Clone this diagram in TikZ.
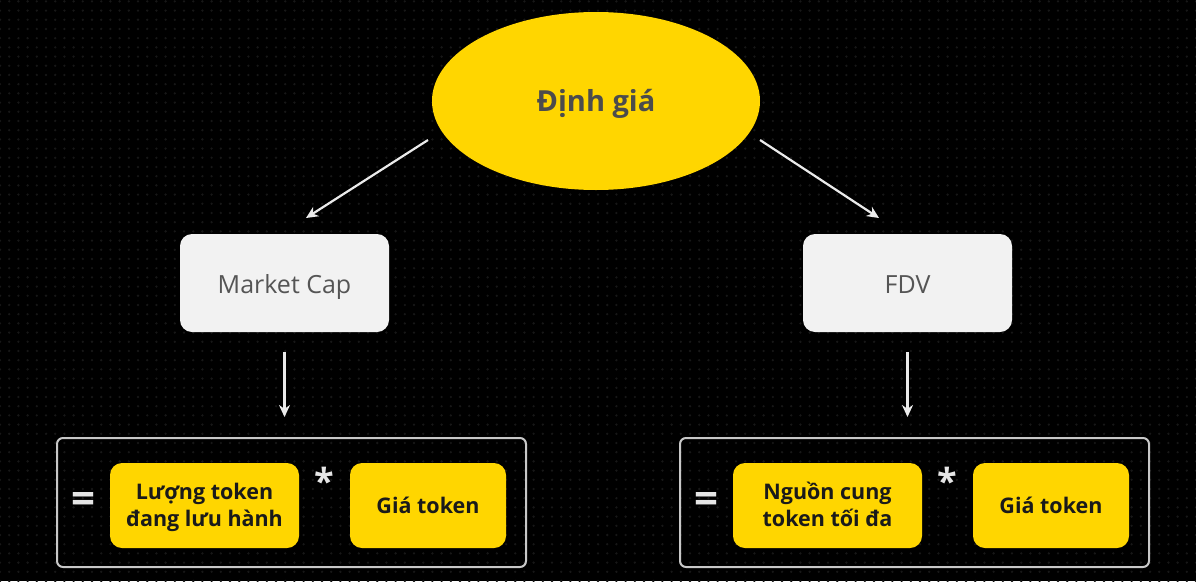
\documentclass[tikz,border=0pt]{standalone}
\usepackage{fontspec}
\setmainfont{Open Sans}
\usetikzlibrary{shapes.geometric,arrows.meta,patterns.meta}
\definecolor{ylw}{HTML}{FFD600}
\definecolor{lightbox}{HTML}{F2F2F2}
\definecolor{dotc}{HTML}{171717}
\definecolor{txtgray}{HTML}{555555}
\definecolor{txtdark}{HTML}{1A1A1A}
\definecolor{framec}{HTML}{C8C8C8}
\newcommand{\lowerby}[2]{\raisebox{-#1}[\height][\depth]{#2}}
\newcommand{\twolines}[2]{\lowerby{2.5pt}{\begin{tabular}{@{}c@{}}#1\\#2\end{tabular}}}
\tikzdeclarepattern{
  name=bgdots,
  type=uncolored,
  bottom left={(-4.6pt,-4.6pt)},
  top right={(4.6pt,4.6pt)},
  tile size={(9.2pt,9.2pt)},
  code={\pgfpathcircle{\pgfpointorigin}{1.3pt}\pgfusepath{fill}}
}
\tikzset{
  topnode/.style={ellipse, fill=ylw, minimum width=328pt, minimum height=178pt, inner sep=0pt,
    text=txtgray!90!black, font=\fontsize{29}{32}\selectfont\bfseries},
  graybox/.style={rectangle, rounded corners=12pt, fill=lightbox, minimum width=209pt, minimum height=98pt,
    text=txtgray, font=\fontsize{25}{28}\selectfont},
  framebox/.style={rectangle, rounded corners=6pt, draw=framec, line width=2pt, minimum width=469pt, minimum height=129pt},
  ybox/.style={rectangle, rounded corners=12pt, fill=ylw, minimum height=85pt, inner sep=0pt,
    text=txtdark, font=\fontsize{21.5}{27}\selectfont\bfseries},
  opsym/.style={text=white!90!black, inner sep=0pt},
  arr/.style={draw=white!92!black, line width=2.2pt, -{Stealth[length=12pt,width=11pt]}}
}
\begin{document}
\begin{tikzpicture}[x=1pt,y=-1pt]
\useasboundingbox (0,0) rectangle (1196,581);
\fill[black] (0,0) rectangle (1196,581);
\fill[pattern={bgdots}, pattern color=dotc] (0,0) rectangle (1196,581);
% top
\node[topnode] (e) at (596,101) {\lowerby{3pt}{Định giá}};
% middle
\node[graybox] (mc) at (284.5,283) {\lowerby{4pt}{Market Cap}};
\node[graybox] (fdv) at (907.5,283) {\lowerby{2pt}{FDV}};
% bottom frames
\node[framebox] (lf) at (291.5,502.5) {};
\node[framebox] (rf) at (914.5,502.5) {};
% left formula
\node[opsym, font=\fontsize{42}{42}\selectfont\bfseries] (leq) at (83,503) {=};
\node[ybox, minimum width=189pt] (l1) at (204.5,505.5) {\twolines{Lượng token}{đang lưu hành}};
\node[opsym, font=\fontsize{36}{36}\selectfont\bfseries] (lst) at (324,481) {*};
\node[ybox, minimum width=156pt] (l2) at (428,505.5) {Giá token};
% right formula
\node[opsym, font=\fontsize{42}{42}\selectfont\bfseries] (req) at (706,503) {=};
\node[ybox, minimum width=189pt] (r1) at (827.5,505.5) {\twolines{Nguồn cung}{token tối đa}};
\node[opsym, font=\fontsize{36}{36}\selectfont\bfseries] (rst) at (947,481) {*};
\node[ybox, minimum width=156pt] (r2) at (1051,505.5) {Giá token};
% arrows
\coordinate (a1s) at (428,140);
\coordinate (a1e) at (306,218);
\coordinate (a2s) at (760,140);
\coordinate (a2e) at (879,218);
\draw[arr] (a1s) -- (a1e);
\draw[arr] (a2s) -- (a2e);
\draw[arr, shorten <=20pt, shorten >=20pt] (mc.south) -- (mc.south |- lf.north);
\draw[arr, shorten <=20pt, shorten >=20pt] (fdv.south) -- (fdv.south |- rf.north);
\end{tikzpicture}
\end{document}
